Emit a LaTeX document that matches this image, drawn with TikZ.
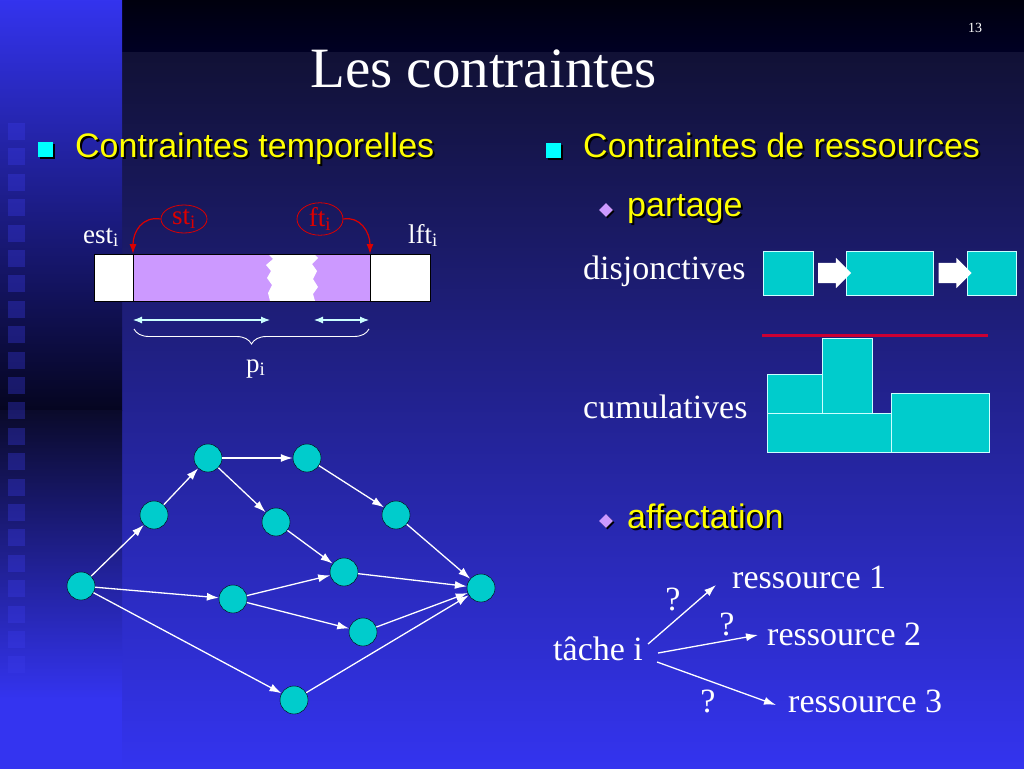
\documentclass[tikz,border=0pt]{standalone}
\usepackage{fontspec}
\setmainfont{Liberation Serif}
\newfontfamily\headfont{Liberation Sans}
\usetikzlibrary{arrows.meta,positioning,shapes.geometric,shapes.arrows,shadows,decorations.pathreplacing,calc}
\definecolor{SlideBlue}{RGB}{52,52,240}
\definecolor{MidBlue}{RGB}{46,46,222}
\definecolor{NightBlue}{RGB}{17,17,53}
\definecolor{InkBlue}{RGB}{5,5,32}
\definecolor{DuskBlue}{RGB}{10,10,42}
\definecolor{BandTop}{RGB}{0,0,12}
\definecolor{BandLow}{RGB}{0,0,36}
\definecolor{TileBlue}{RGB}{60,60,235}
\definecolor{TaskCyan}{RGB}{0,204,204}
\definecolor{PaleCyan}{RGB}{204,255,255}
\definecolor{BrightCyan}{RGB}{0,255,255}
\definecolor{Lilac}{RGB}{204,153,255}
\definecolor{HeadYellow}{RGB}{255,255,0}
\definecolor{MarkRed}{RGB}{220,0,0}
\definecolor{LimitRed}{RGB}{204,0,51}

\newcommand{\shadowed}[1]{\makebox[0pt][l]{\hspace{2pt}\raisebox{-2pt}{\color{black}#1}}#1}
\newcommand{\bodysize}{\fontsize{34}{40}\selectfont}
\newcommand{\smallsize}{\fontsize{27}{32}\selectfont}

\tikzset{
  title/.style={anchor=base west, inner sep=0pt, text=white, font=\fontsize{57}{64}\selectfont},
  heading/.style={anchor=base west, inner sep=0pt, text=HeadYellow, font=\headfont\bodysize},
  plain/.style={anchor=base west, inner sep=0pt, text=white, font=\bodysize},
  small/.style={anchor=base west, inner sep=0pt, text=white, font=\smallsize},
  sqbullet/.style={rectangle, fill=BrightCyan, minimum size=15pt, inner sep=0pt,
    drop shadow={shadow xshift=2pt, shadow yshift=-2pt, fill=black, opacity=1}},
  dmbullet/.style={diamond, fill=Lilac, minimum size=14pt, inner sep=0pt,
    drop shadow={shadow xshift=1.5pt, shadow yshift=-1.5pt, fill=black, opacity=1}},
  timemark/.style={ellipse, draw=MarkRed, line width=0.8pt, text=MarkRed, inner sep=0pt,
    minimum width=46pt, minimum height=28pt, font=\smallsize},
  markarrow/.style={-{Latex[length=10pt,width=7pt]}, MarkRed, line width=1.2pt},
  span/.style={{Latex[length=9pt,width=7pt]}-{Latex[length=9pt,width=7pt]}, PaleCyan, line width=1.1pt},
  task/.style={circle, draw=black, fill=TaskCyan, minimum size=28pt, inner sep=0pt},
  link/.style={-{Latex[length=12pt,width=8pt]}, white, line width=1.3pt},
  job/.style={draw=PaleCyan, fill=TaskCyan, line width=1pt},
  jobbox/.style={job, rectangle, minimum height=44pt, inner sep=0pt},
  blockarrow/.style={single arrow, fill=white, minimum height=33pt, inner sep=0pt,
    inner ysep=10pt, single arrow head extend=5pt},
  assign/.style={-{Latex[length=12pt,width=8pt]}, white, line width=1.3pt}
}

\begin{document}
\begin{tikzpicture}[x=1pt, y=-1pt]
\useasboundingbox (0,0) rectangle (1024,768);

% background
\shade[top color=NightBlue, middle color=MidBlue, bottom color=SlideBlue] (122,52) rectangle (1028,772);
\shade[top color=BandTop, bottom color=BandLow] (122,-4) rectangle (1028,52);
\shade[top color=SlideBlue, bottom color=InkBlue] (-4,-4) rectangle (122,410);
\shade[top color=DuskBlue, bottom color=SlideBlue] (-4,410) rectangle (122,700);
\fill[SlideBlue] (-4,700) rectangle (122,772);
\foreach \k in {0,...,21}
  \fill[TileBlue, opacity=0.33] (8,{123+25.4*\k}) rectangle ++(17,17);

% title
\node[title] (title) at (310,87) {Les contraintes};
\node[anchor=base west, inner sep=0pt, text=white, font=\fontsize{14}{16}\selectfont] (pagenum) at (968,33) {13};

% temporal constraints
\node[sqbullet] (tbullet) at (45,149) {};
\node[heading] (temporal) at (75,157) {\shadowed{Contraintes temporelles}};

\fill[white] (94,254) rectangle (430,301);
\fill[Lilac] (133,254) rectangle (370,301);
\fill[white] (268,254) -- (273,259) -- (266,265) -- (271,271) -- (267,278) -- (272,285)
  -- (268,293) -- (270,301) -- (315,301) -- (313,294) -- (318,287) -- (313,279)
  -- (317,271) -- (312,264) -- (318,258) -- (314,254) -- cycle;
\draw[black, line width=0.8pt] (94,254) rectangle (430,301);
\draw[black, line width=0.8pt] (133,254) -- (133,301) (370,254) -- (370,301);
\coordinate (s) at (133,254);
\coordinate (f) at (370,254);

\node[small] (est) at (83,243) {est\textsubscript{i}};
\node[small] (lft) at (408,243) {lft\textsubscript{i}};
\node[timemark] (st) at (184,219) {st\textsubscript{i}};
\node[timemark] (ft) at (320,219) {ft\textsubscript{i}};
\draw[markarrow] (st.west) .. controls (142,216) and (133,232) .. (s);
\draw[markarrow] (ft.east) .. controls (360,216) and (370,232) .. (f);

\coordinate (sp1a) at (133,320);
\coordinate (sp1b) at (270,320);
\coordinate (sp2a) at (314,320);
\coordinate (sp2b) at (369,320);
\draw[span] (sp1a) -- (sp1b);
\draw[span] (sp2a) -- (sp2b);
\draw[white, line width=0.9pt, decorate, decoration={brace, amplitude=15pt}] (369,329) -- (134,329);
\node[small] (p) at (246,372) {p\textsubscript{i}};

% precedence graph
\node[task] (t1) at (81,586) {};
\node[task] (t2) at (154,515) {};
\node[task] (t3) at (208,458) {};
\node[task] (t4) at (307,458) {};
\node[task] (t5) at (276,522) {};
\node[task] (t6) at (396,515) {};
\node[task] (t7) at (233,599) {};
\node[task] (t8) at (344,572) {};
\node[task] (t9) at (481,588) {};
\node[task] (t10) at (363,632) {};
\node[task] (t11) at (294,700) {};
\draw[link] (t1) -- (t2);
\draw[link] (t2) -- (t3);
\draw[link] (t3) -- (t4);
\draw[link] (t3) -- (t5);
\draw[link] (t4) -- (t6);
\draw[link] (t5) -- (t8);
\draw[link] (t6) -- (t9);
\draw[link] (t1) -- (t7);
\draw[link] (t7) -- (t8);
\draw[link] (t7) -- (t10);
\draw[link] (t8) -- (t9);
\draw[link] (t10) -- (t9);
\draw[link] (t1) -- (t11);
\draw[link] (t11) -- (t9);

% resource constraints
\node[sqbullet] (rbullet) at (553,150) {};
\node[heading] (resources) at (583,157) {\shadowed{Contraintes de ressources}};
\node[dmbullet] (pbullet) at (606,210) {};
\node[heading] (partage) at (627,216) {\shadowed{partage}};

\node[plain] (disj) at (583,279) {disjonctives};
\node[jobbox, minimum width=50pt] (d1) at (788,273) {};
\node[jobbox, minimum width=87pt] (d2) at (889.5,273) {};
\node[jobbox, minimum width=49pt] (d3) at (991.5,273) {};
\node[blockarrow] (ar1) at ($(d1.east)!0.5!(d2.west)$) {};
\node[blockarrow] (ar2) at ($(d2.east)!0.5!(d3.west)$) {};

\node[plain] (cumul) at (583,418) {cumulatives};
\draw[LimitRed, line width=3pt] (762,335.5) -- (988,335.5);
\draw[job] (767,374) rectangle (822,413);
\draw[job] (822,338) rectangle (872,413);
\draw[job] (767,413) rectangle (891,452);
\draw[job] (891,393) rectangle (989,452);

\node[dmbullet] (abullet) at (606,521) {};
\node[heading] (affect) at (627,528) {\shadowed{affectation}};

\node[plain] (tache) at (553,660) {tâche i};
\node[plain] (r1) at (732,588) {ressource 1};
\node[plain] (r2) at (767,645) {ressource 2};
\node[plain] (r3) at (788,712) {ressource 3};
\draw[assign] ($(tache.base east)+(5,-16)$) -- ($(r1.base west)+(-16,-3)$);
\draw[assign] ($(tache.base east)+(15,-7)$) -- ($(r2.base west)+(-9,-10)$);
\draw[assign] ($(tache.base east)+(14,2)$) -- ($(r3.base west)+(-12,-7)$);
\node[plain, anchor=base] (q1) at (673,610) {?};
\node[plain, anchor=base] (q2) at (727,635) {?};
\node[plain, anchor=base] (q3) at (708,712) {?};
\end{tikzpicture}
\end{document}
